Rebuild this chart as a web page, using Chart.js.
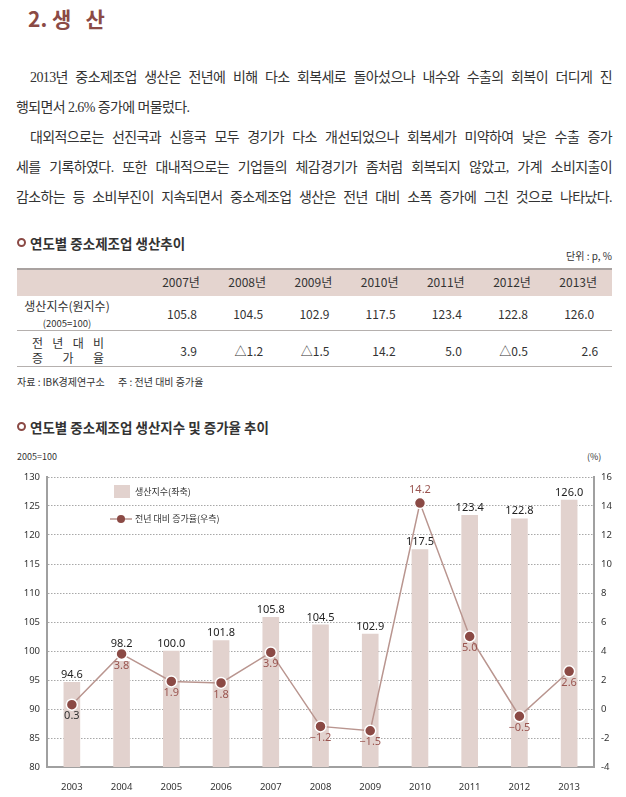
<!DOCTYPE html>
<html><head><meta charset="utf-8">
<script src="https://cdn.jsdelivr.net/npm/chart.js@4.4.1/dist/chart.umd.min.js"></script>
<style>
body{margin:0;width:626px;height:797px;background:#fff;position:relative;overflow:hidden;font-family:"Noto Sans CJK KR","Noto Sans",sans-serif;color:#333}
.a{position:absolute;white-space:nowrap}
.h1{left:28px;top:4px;font-size:21px;font-weight:bold;color:#8b4a45;line-height:28px}
.ln{position:absolute;font-family:"Liberation Serif","Noto Sans CJK KR",serif;font-size:14px;letter-spacing:-0.6px;line-height:20px;text-align:justify;text-align-last:justify;color:#333}
.ln.last{text-align-last:left}
.sec{font-size:13.5px;font-weight:bold;color:#333;line-height:20px}
.ring{position:absolute;width:5px;height:5px;border:2.5px solid #8b4a45;border-radius:50%}
.small{font-size:10px;color:#333;line-height:14px}
.cell{position:absolute;font-size:12px;line-height:16px;color:#333;white-space:nowrap}
</style>
</head><body>
<div class="a h1">2. 생&nbsp;&nbsp; 산</div>

<div class="ln" style="left:30px;width:582px;top:68px">2013년 중소제조업 생산은 전년에 비해 다소 회복세로 돌아섰으나 내수와 수출의 회복이 더디게 진</div>
<div class="ln last" style="left:16px;width:596px;top:98px">행되면서 2.6% 증가에 머물렀다.</div>
<div class="ln" style="left:30px;width:582px;top:128px">대외적으로는 선진국과 신흥국 모두 경기가 다소 개선되었으나 회복세가 미약하여 낮은 수출 증가</div>
<div class="ln" style="left:16px;width:596px;top:158px">세를 기록하였다. 또한 대내적으로는 기업들의 체감경기가 좀처럼 회복되지 않았고, 가계 소비지출이</div>
<div class="ln" style="left:16px;width:596px;top:188px">감소하는 등 소비부진이 지속되면서 중소제조업 생산은 전년 대비 소폭 증가에 그친 것으로 나타났다.</div>

<div class="ring" style="left:17px;top:238px"></div>
<div class="a sec" style="left:30px;top:233px">연도별 중소제조업 생산추이</div>
<div class="a small" style="right:14px;top:249px">단위 : p, %</div>

<div id="table"></div>

<div class="a small" style="left:17px;top:375px">자료 : IBK경제연구소&nbsp;&nbsp;&nbsp;&nbsp;&nbsp; 주 : 전년 대비 증가율</div>

<div class="ring" style="left:17px;top:422px"></div>
<div class="a sec" style="left:30px;top:417px">연도별 중소제조업 생산지수 및 증가율 추이</div>
<div class="a" style="left:17px;top:450px;font-size:9px;color:#333;line-height:14px">2005=100</div>
<div class="a" style="left:587px;top:450px;font-size:9px;color:#333;line-height:14px">(%)</div>

<div style="position:absolute;left:0;top:450px;width:626px;height:347px"><canvas id="c"></canvas></div>

<script>
// ---- table data ----
const tableYears = ['2007년','2008년','2009년','2010년','2011년','2012년','2013년'];
const tableIndex = ['105.8','104.5','102.9','117.5','123.4','122.8','126.0'];
const tableGrowth = ['3.9','△1.2','△1.5','14.2','5.0','△0.5','2.6'];

// ---- chart data ----
const years = ['2003','2004','2005','2006','2007','2008','2009','2010','2011','2012','2013'];
const indexValues = [94.6, 98.2, 100.0, 101.8, 105.8, 104.5, 102.9, 117.5, 123.4, 122.8, 126.0];
const growthValues = [0.3, 3.8, 1.9, 1.8, 3.9, -1.2, -1.5, 14.2, 5.0, -0.5, 2.6];
const leftTicks = {min: 80, max: 130, step: 5};
const rightTicks = {min: -4, max: 16, step: 2};

// build table
(function(){
  const t = document.getElementById('table');
  let h = '';
  h += '<div style="position:absolute;left:17px;top:268px;width:595px;height:26px;background:#e4d4cf;border-top:2px solid #a9a2a0"></div>';
  h += '<div style="position:absolute;left:17px;top:330px;width:595px;height:0;border-top:1.5px solid #b5b0ae"></div>';
  h += '<div style="position:absolute;left:17px;top:366px;width:595px;height:0;border-top:1.5px solid #b5b0ae"></div>';
  const c0 = 181, dx = 66.2;
  tableYears.forEach((y,i)=>{
    const cx = c0 + dx*i;
    h += `<div class="cell" style="left:${cx-30}px;width:60px;text-align:center;top:274px">${y}</div>`;
    h += `<div class="cell" style="left:${cx-40}px;width:56px;text-align:right;top:306px">${tableIndex[i]}</div>`;
    h += `<div class="cell" style="left:${cx-40}px;width:${i===6?60:56}px;text-align:right;top:343px">${tableGrowth[i]}</div>`;
  });
  h += '<div class="cell" style="left:17px;width:100px;text-align:center;top:298px">생산지수(원지수)</div>';
  h += '<div class="cell" style="left:17px;width:100px;text-align:center;top:315px;font-size:9.5px">(2005=100)</div>';
  h += '<div class="cell" style="left:32px;width:72px;top:335px;text-align:justify;text-align-last:justify">전 년 대 비</div>';
  h += '<div class="cell" style="left:32px;width:72px;top:350px;text-align:justify;text-align-last:justify">증 가 율</div>';
  t.innerHTML = h;
})();

const BAR = '#e2d2ce', LINE = '#b9958f', PT = '#8b4a45', LBL = '#9a5550';

const labelPlugin = {
  id: 'labels',
  afterDatasetsDraw(chart){
    const ctx = chart.ctx;
    ctx.save();
    ctx.font = '11px "Noto Sans","DejaVu Sans",sans-serif';
    ctx.textAlign = 'center';
    // bar labels (2004 label lifted above the point)
    const bm = chart.getDatasetMeta(1);
    bm.data.forEach((el,i)=>{
      ctx.fillStyle = '#222';
      ctx.textBaseline = 'bottom';
      const lift = i === 1 ? 10 : 0;
      ctx.fillText(indexValues[i].toFixed(1), el.x, el.y - 2 - lift);
    });
    // line labels
    const lm = chart.getDatasetMeta(0);
    lm.data.forEach((el,i)=>{
      const v = growthValues[i];
      const txt = (v < 0 ? '\u2212' + Math.abs(v).toFixed(1) : v.toFixed(1));
      ctx.fillStyle = i === 0 ? '#333' : LBL;
      if (i === 7) { ctx.textBaseline = 'bottom'; ctx.fillText(txt, el.x, el.y - 8); }
      else { ctx.textBaseline = 'top'; ctx.fillText(txt, el.x, el.y + 6); }
    });
    // legend
    const a = chart.chartArea;
    const lx = a.left + 67, ly = a.top + 8;
    ctx.fillStyle = BAR;
    ctx.fillRect(lx, ly, 16, 13);
    ctx.font = '9px "Noto Sans CJK KR",sans-serif';
    ctx.fillStyle = '#333';
    ctx.textAlign = 'left'; ctx.textBaseline = 'middle';
    ctx.fillText('생산지수(좌축)', lx + 21, ly + 7);
    const ly2 = a.top + 42;
    ctx.strokeStyle = LINE; ctx.lineWidth = 1.5;
    ctx.beginPath(); ctx.moveTo(lx - 4, ly2); ctx.lineTo(lx + 18, ly2); ctx.stroke();
    ctx.fillStyle = PT; ctx.beginPath(); ctx.arc(lx + 7, ly2, 4, 0, Math.PI*2); ctx.fill();
    ctx.fillStyle = '#333';
    ctx.fillText('전년 대비 증가율(우측)', lx + 21, ly2);
    ctx.restore();
  }
};

new Chart(document.getElementById('c'), {
  data: {
    labels: years,
    datasets: [
      { type:'line', label:'전년 대비 증가율(우측)', data: growthValues, yAxisID:'y2', order:0,
        borderColor: LINE, borderWidth: 1.5, tension: 0,
        pointRadius: 5.5, pointBackgroundColor: PT, pointBorderColor: '#fff', pointBorderWidth: 1.5 },
      { type:'bar', label:'생산지수(좌축)', data: indexValues, yAxisID:'y', order:1,
        backgroundColor: BAR, barThickness: 16 }
    ]
  },
  options: {
    responsive: true, maintainAspectRatio: false, animation: false,
    layout: { padding: { top: 27, left: 0, right: 0, bottom: 0 } },
    plugins: { legend: { display: false }, tooltip: { enabled: false } },
    scales: {
      x: {
        grid: { display: false },
        border: { color: '#a0a0a0', width: 2 },
        ticks: { color: '#333', font: { size: 9.5, family: '"Noto Sans",sans-serif' }, padding: 7 },
        afterFit(s){ s.height = 30; }
      },
      y: {
        position: 'left', min: leftTicks.min, max: leftTicks.max,
        ticks: { stepSize: leftTicks.step, color: '#333', font: { size: 9.5, family: '"Noto Sans",sans-serif' }, padding: 7 },
        grid: { color: '#a8a8a8', lineWidth: 1, drawTicks: false },
        border: { color: '#a0a0a0', width: 2, dash: [1.5, 1.5] },
        afterFit(s){ s.width = 47; }
      },
      y2: {
        position: 'right', min: rightTicks.min, max: rightTicks.max,
        ticks: { stepSize: rightTicks.step, color: '#333', font: { size: 9.5, family: '"Noto Sans",sans-serif' }, padding: 7 },
        grid: { drawOnChartArea: false, drawTicks: false },
        border: { color: '#a0a0a0', width: 2 },
        afterFit(s){ s.width = 32; }
      }
    }
  },
  plugins: [labelPlugin]
});
</script>
</body></html>
